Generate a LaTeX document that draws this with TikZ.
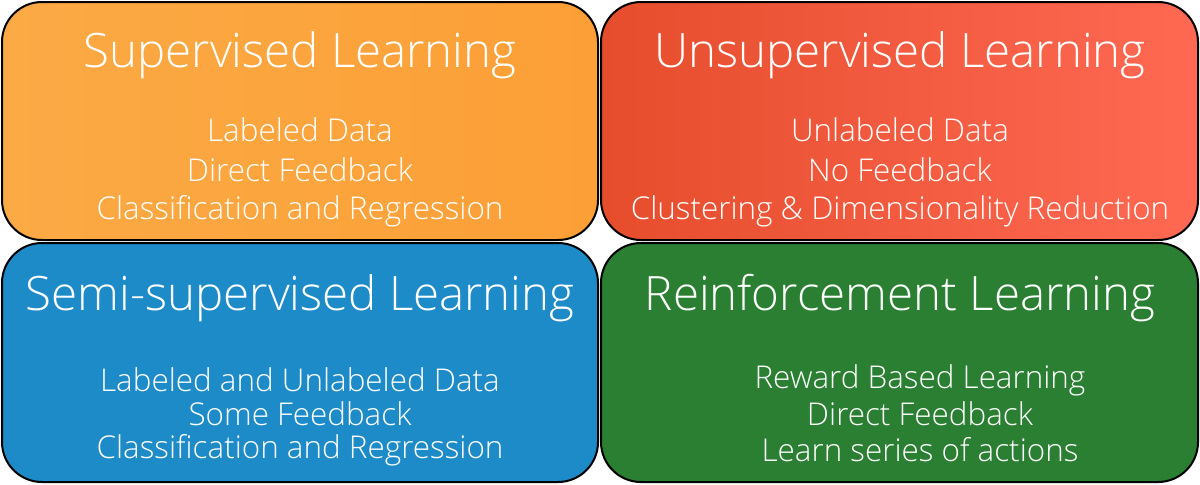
\documentclass[tikz,border=0pt]{standalone}
\usepackage{fontspec}
\setmainfont{Open Sans Light}
\begin{document}
\begin{tikzpicture}[x=0.5pt,y=-0.5pt]
\definecolor{orA}{HTML}{FBAA45}\definecolor{orB}{HTML}{FC9F36}
\definecolor{reA}{HTML}{E54D2C}\definecolor{reB}{HTML}{FF6953}
\definecolor{blu}{HTML}{1E8BC9}\definecolor{grn}{HTML}{2A7F32}
\tikzset{quad/.style={draw=black,line width=1pt,rounded corners=20pt},
 title/.style={text=white,font=\fontsize{23.7}{27}\selectfont},
 body/.style={text=white,font=\fontsize{15.7}{20}\selectfont,align=center}}
\useasboundingbox (0,0) rectangle (1200,484);
\path[quad,left color=orA,right color=orB] (2,2) rectangle (598,240);
\path[quad,left color=reA,right color=reB] (601,2) rectangle (1198,240);
\path[quad,fill=blu] (2,243) rectangle (598,482);
\path[quad,fill=grn] (601,243) rectangle (1198,482);
\node[title] (t1) at (300,55) {Supervised Learning};
\node[title] (t2) at (900,55) {Unsupervised Learning};
\node[title] (t3) at (300,298) {Semi-supervised Learning};
\node[title] (t4) at (900,298) {Reinforcement Learning};
\node[body] (b1a) at (300,130) {Labeled Data};
\node[body] (b1b) at (300,170) {Direct Feedback};
\node[body] (b1c) at (300,211) {Classification and Regression};
\node[body] (b2a) at (900,130) {Unlabeled Data};
\node[body] (b2b) at (900,170) {No Feedback};
\node[body] (b2c) at (900,211) {Clustering \& Dimensionality Reduction};
\node[body] (b3a) at (300,380) {Labeled and Unlabeled Data};
\node[body] (b3b) at (300,414) {Some Feedback};
\node[body] (b3c) at (300,450) {Classification and Regression};
\node[body] (b4a) at (920,380) {Reward Based Learning};
\node[body] (b4b) at (920,414) {Direct Feedback};
\node[body] (b4c) at (920,450) {Learn series of actions};
\end{tikzpicture}
\end{document}
